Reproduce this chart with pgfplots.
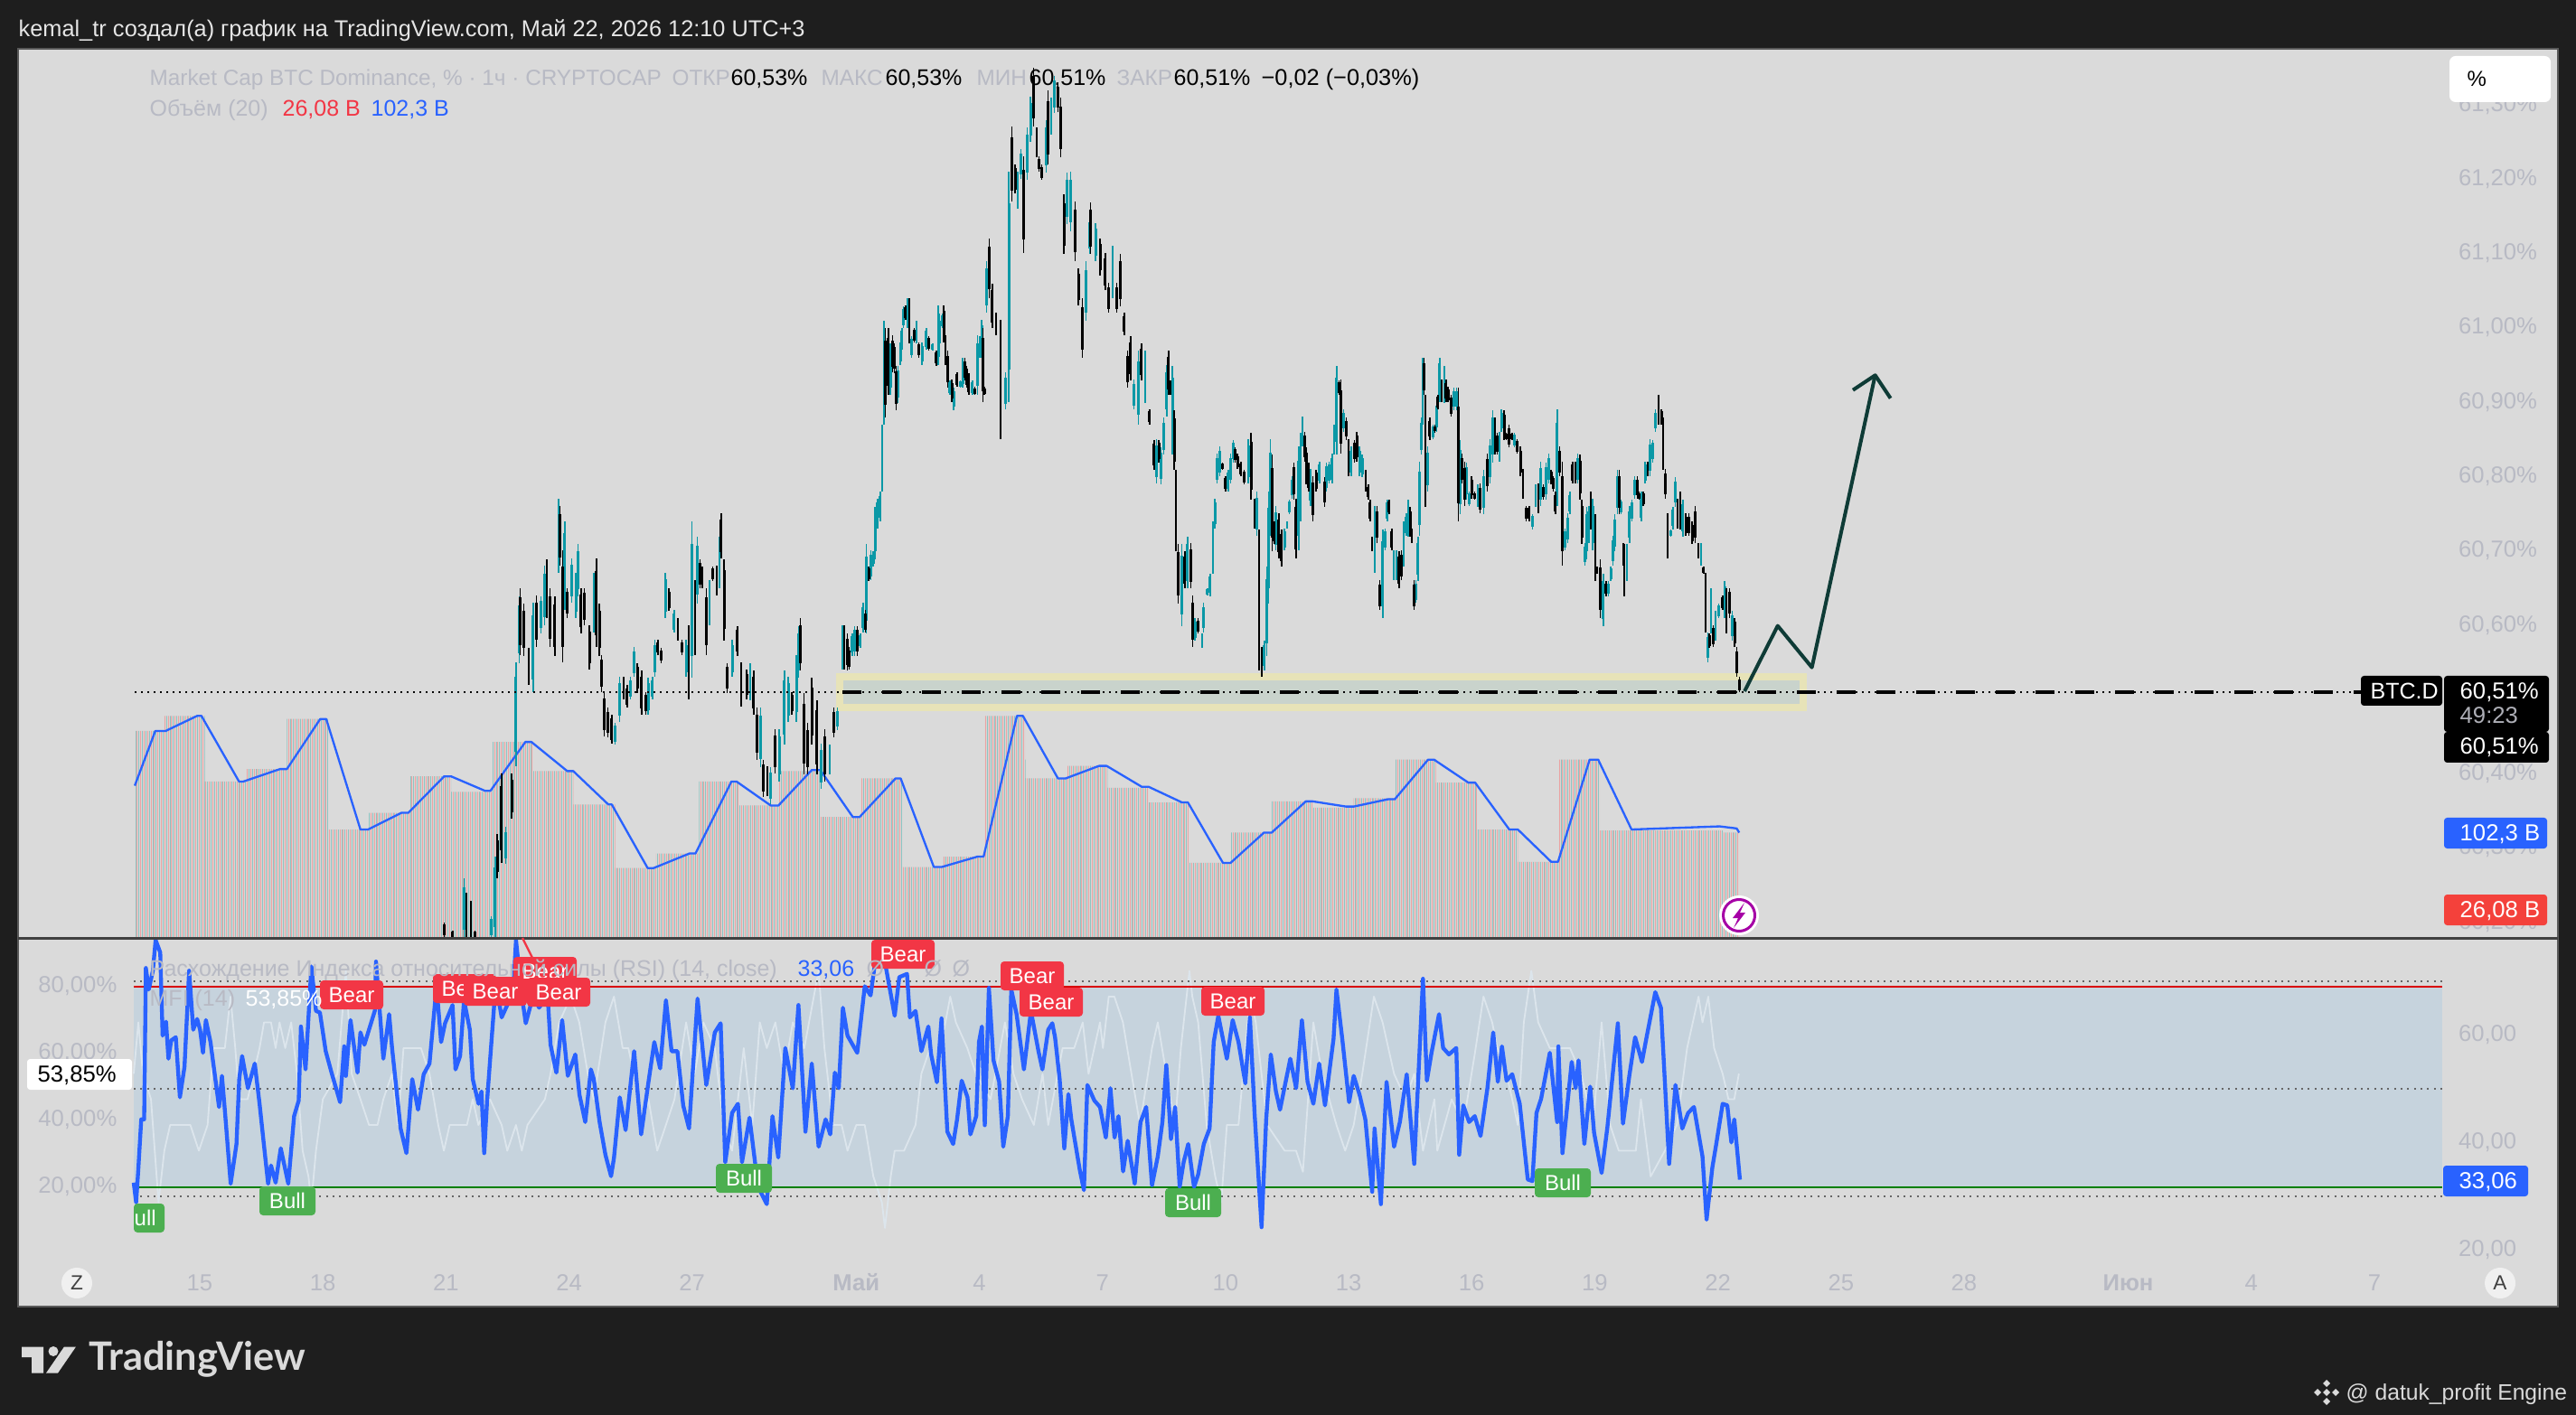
\documentclass[border=0pt]{standalone}
\usepackage{fontspec}
\usepackage{pgfplots}
\usepackage{pgfplotstable}
\pgfplotsset{compat=1.18}
\usetikzlibrary{patterns.meta}
\setmainfont{Liberation Sans}
\newfontfamily\tvfont{Lato}[Scale=1.0]
\definecolor{bg}{HTML}{1E1E1E}
\definecolor{panel}{HTML}{DADADA}
\definecolor{lab}{HTML}{B8BAC4}
\definecolor{teal}{HTML}{0A98A6}
\definecolor{tvblue}{HTML}{2962FF}
\definecolor{tvred}{HTML}{F23645}
\definecolor{tvgreen}{HTML}{4CAF50}
\definecolor{band}{HTML}{C6D3DD}
\definecolor{mfi}{HTML}{DCE5EC}
\definecolor{zoney}{HTML}{E7E3B8}
\definecolor{zonei}{HTML}{C9D3CC}
\definecolor{volr}{HTML}{EBA3A3}
\definecolor{volt}{HTML}{8CC5C2}
\definecolor{arrowc}{HTML}{0E3B36}
\newcommand\fs[1]{\fontsize{#1}{#1}\selectfont}
% hourly candles: hour since 13 April, high, low
\pgfplotstableread{
h H L
191 60.20 60.18
196 60.19 60.18
204 60.24 60.18
206.6 60.23 60.18
209 60.19 60.18
222 60.32 60.26
224.5 60.40 60.28
230.5 60.40 60.34
235.4 60.65 60.56
237.5 60.63 60.56
240.5 60.57 60.52
245 60.64 60.57
251 60.69 60.61
253 60.65 60.57
255.7 60.64 60.56
258.8 60.76 60.68
260.3 60.70 60.55
263 60.65 60.61
271 60.65 60.59
273 60.65 60.60
276 60.60 60.54
280 60.69 60.57
281.8 60.63 60.56
283 60.56 60.51
284.5 60.51 60.45
286.7 60.49 60.45
289 60.48 60.44
296 60.53 60.50
298 60.52 60.49
304 60.55 60.51
306.5 60.54 60.48
308.8 60.51 60.48
316 60.58 60.56
318 60.57 60.55
322.5 60.65 60.62
327.7 60.61 60.58
330 60.58 60.56
334 60.60 60.50
337.7 60.66 60.56
340.7 60.69 60.65
342 60.68 60.65
344.4 60.65 60.56
348 60.68 60.66
350.4 60.68 60.64
353 60.75 60.69
354.7 60.69 60.58
356.5 60.55 60.51
362.5 60.60 60.56
364.7 60.55 60.49
368 60.54 60.50
372 60.54 60.48
374 60.49 60.42
377.7 60.42 60.37
380 60.41 60.37
384.4 60.46 60.40
394.4 60.51 60.48
399.3 60.61 60.54
401.4 60.51 60.40
403.6 60.47 60.40
406 60.53 60.44
409 60.50 60.40
413.5 60.46 60.39
419 60.49 60.45
425 60.60 60.54
426.8 60.59 60.54
428 60.57 60.54
432.6 60.60 60.56
437.4 60.62 60.59
439.3 60.68 60.66
449 61.00 60.88
450.8 61.00 60.91
453.2 60.99 60.94
454.3 60.98 60.94
455.4 60.95 60.89
460.8 61.03 61.01
463 61.04 60.98
466 61.00 60.98
468.7 60.98 60.96
474.5 60.99 60.97
478.8 60.97 60.95
483.2 61.03 60.98
484.2 60.99 60.95
485.5 60.97 60.92
488 60.93 60.90
491 60.94 60.92
495.5 60.96 60.93
496.5 60.95 60.92
497.8 60.94 60.91
501.3 60.92 60.91
506 61.00 60.90
507 60.92 60.91
509.8 61.12 61.04
511.6 61.06 61.00
513.8 61.02 60.99
516.4 61.01 60.85
523 61.27 61.17
525 61.22 61.18
530 61.23 61.10
535.7 61.35 61.27
537.6 61.27 61.23
539 61.23 61.21
540.6 61.22 61.20
544.3 61.32 61.22
550 61.33 61.29
551.7 61.31 61.23
553.5 61.18 61.10
560 61.17 61.09
562 61.08 61.03
564.3 61.04 60.96
569 61.17 61.10
574.7 61.12 61.07
577.7 61.10 61.05
579.5 61.06 61.02
584.3 61.06 61.02
586.6 61.10 61.03
588.8 61.02 60.99
590.6 60.97 60.92
592.5 60.99 60.93
598.8 60.98 60.93
603.6 60.89 60.87
606.2 60.85 60.81
609 60.85 60.82
614.7 60.97 60.91
615.8 60.93 60.91
618 60.89 60.81
619 60.81 60.70
620.2 60.71 60.63
624.2 60.70 60.65
627.6 60.71 60.65
628.7 60.64 60.57
632 60.61 60.59
646.3 60.82 60.81
648 60.80 60.78
653.6 60.84 60.82
655 60.83 60.81
657 60.82 60.80
659 60.81 60.79
663 60.86 60.77
665 60.77 60.73
667.6 60.73 60.54
669.2 60.57 60.53
675.2 60.83 60.70
676.5 60.74 60.71
679.2 60.75 60.69
680.8 60.73 60.68
688 60.82 60.77
689.2 60.77 60.69
694.3 60.86 60.82
695.2 60.84 60.79
696.6 60.82 60.78
699.2 60.80 60.74
701 60.81 60.78
706 60.80 60.76
714.4 60.93 60.91
715.5 60.93 60.83
718.6 60.88 60.85
720 60.85 60.80
723.3 60.85 60.82
724.8 60.86 60.82
730 60.81 60.78
731.5 60.79 60.77
732.6 60.77 60.74
733.7 60.72 60.70
736.6 60.76 60.71
738.2 60.66 60.62
743.7 60.77 60.75
745.3 60.73 60.70
749.5 60.70 60.65
750.8 60.70 60.66
756 60.76 60.72
757 60.73 60.71
758.4 60.66 60.62
764 60.96 60.91
764.9 60.91 60.76
767.5 60.88 60.85
770.4 60.87 60.86
772.2 60.91 60.89
774.4 60.93 60.90
777 60.93 60.90
778.2 60.92 60.90
780 60.91 60.88
784.2 60.92 60.74
786.4 60.83 60.79
787.8 60.82 60.76
792 60.80 60.77
793.8 60.78 60.77
797 60.79 60.75
801 60.83 60.78
805.6 60.88 60.83
807 60.86 60.83
811 60.89 60.85
812.3 60.86 60.85
813.8 60.87 60.84
815.6 60.86 60.85
818.7 60.85 60.83
820.5 60.84 60.80
822 60.81 60.77
823.8 60.76 60.74
825.6 60.76 60.74
831 60.79 60.75
833.8 60.79 60.77
838.5 60.81 60.79
839.8 60.80 60.78
841 60.78 60.75
843.4 60.84 60.80
845 60.82 60.68
851 60.82 60.79
852.7 60.82 60.79
855.4 60.83 60.77
856.5 60.77 60.71
861.7 60.78 60.73
864.3 60.75 60.66
865.4 60.68 60.67
867.2 60.69 60.61
870.6 60.66 60.64
878.3 60.81 60.75
880.8 60.71 60.68
881.2 60.71 60.64
888.8 60.80 60.77
889.9 60.78 60.77
892.4 60.78 60.76
895 60.82 60.80
901.3 60.91 60.87
903 60.89 60.87
904 60.88 60.81
905.3 60.81 60.77
906.6 60.75 60.69
912.4 60.77 60.73
914 60.78 60.73
917.3 60.75 60.72
919 60.75 60.72
921 60.74 60.71
922.8 60.76 60.71
924.6 60.71 60.69
927.7 60.68 60.67
928.8 60.67 60.59
931 60.59 60.57
933.3 60.60 60.57
938.8 60.64 60.62
941 60.65 60.59
942.9 60.65 60.61
945.8 60.61 60.57
947 60.57 60.53
948.7 60.53 60.51
}\dn
\pgfplotstableread{
h H L
202.6 60.26 60.18
218.4 60.21 60.18
220.8 60.29 60.18
227 60.33 60.28
233 60.55 60.41
235 60.64 60.55
243 60.63 60.51
247.5 60.64 60.59
249.7 60.68 60.60
258 60.77 60.67
261.5 60.74 60.62
265.7 60.69 60.63
268 60.67 60.61
269.4 60.71 60.64
278.5 60.67 60.59
291 60.47 60.44
293.7 60.53 60.47
300 60.53 60.50
302 60.57 60.53
310.3 60.53 60.48
312.8 60.53 60.50
314.3 60.58 60.53
320.4 60.67 60.61
325.5 60.62 60.59
332.5 60.58 60.53
336 60.74 60.53
339 60.72 60.63
346.2 60.66 60.60
352 60.72 60.65
359.5 60.58 60.53
370 60.55 60.50
376 60.49 60.41
382 60.41 60.36
387 60.46 60.39
390 60.54 60.44
392.3 60.53 60.47
397 60.56 60.47
398.4 60.60 60.53
411.5 60.44 60.38
416.5 60.44 60.40
421 60.49 60.46
424 60.60 60.54
429.6 60.59 60.56
431 60.60 60.56
434.4 60.59 60.57
436 60.63 60.59
438 60.71 60.59
440.5 60.70 60.66
442 60.70 60.68
443 60.76 60.69
444.4 60.77 60.73
446 60.78 60.74
447.2 60.87 60.78
448.3 61.01 60.87
452 60.98 60.91
456.4 60.95 60.90
457.8 60.98 60.95
458.7 61.00 60.97
459.6 61.03 61.00
462 61.04 61.00
464.3 60.99 60.96
467.3 61.01 60.98
470.5 60.98 60.95
473 61.00 60.97
476.7 60.98 60.97
480 61.03 60.95
481 61.01 60.98
482.3 61.02 61.00
486.7 60.93 60.91
489 60.92 60.89
493 60.93 60.92
494.3 60.96 60.92
500 60.93 60.91
503 60.99 60.91
504.3 60.99 60.96
505.4 61.01 60.96
508.2 61.09 61.02
519.4 60.94 60.89
521.3 61.21 60.90
526.5 61.21 61.16
528.3 61.24 61.20
532 61.27 61.20
534 61.31 61.25
543 61.28 61.21
546 61.31 61.26
548 61.34 61.29
555.4 61.21 61.14
557.3 61.21 61.13
566.5 61.09 61.01
568.4 61.15 61.10
572 61.14 61.09
582 61.11 61.04
594.4 60.93 60.89
597 60.97 60.87
601 60.97 60.90
607.5 60.85 60.79
610.2 60.84 60.79
611.8 60.88 60.83
613.6 60.95 60.88
617 60.95 60.83
622.5 60.71 60.60
625.8 60.72 60.65
630.2 60.61 60.58
634.3 60.59 60.57
635 60.63 60.59
637.4 60.65 60.64
639 60.67 60.64
640.7 60.74 60.67
641.8 60.77 60.73
643 60.83 60.79
644.7 60.84 60.80
649.6 60.81 60.78
651 60.83 60.79
652.5 60.85 60.82
661.4 60.85 60.79
666.3 60.78 60.72
670.7 60.58 60.54
672 60.68 60.56
673.2 60.78 60.63
674.3 60.85 60.72
677.4 60.76 60.70
682.5 60.73 60.70
684 60.74 60.73
685.4 60.77 60.75
687 60.80 60.77
690.8 60.84 60.70
692 60.86 60.74
693 60.88 60.84
697.7 60.81 60.76
703 60.82 60.79
707 60.82 60.78
708.6 60.82 60.79
710.4 60.83 60.79
711.5 60.87 60.83
713 60.95 60.83
717 60.89 60.86
721.5 60.84 60.80
726.4 60.84 60.80
728 60.83 60.80
735.3 60.76 60.67
740 60.73 60.61
741.5 60.73 60.70
742.6 60.77 60.74
746.4 60.70 60.66
748 60.70 60.66
752.2 60.74 60.68
753.7 60.75 60.72
754.9 60.77 60.72
759.3 60.66 60.63
760.6 60.72 60.66
761.5 60.82 60.72
762.6 60.88 60.83
763.3 60.96 60.87
766.2 60.84 60.78
769.3 60.87 60.85
771.5 60.90 60.86
773.3 60.96 60.90
776 60.95 60.90
781.5 60.92 60.89
783.1 60.92 60.89
785.3 60.85 60.75
788.9 60.82 60.77
790.5 60.78 60.76
795.6 60.79 60.76
799 60.81 60.75
802.7 60.85 60.79
804.2 60.89 60.82
808.3 60.86 60.82
809.4 60.89 60.86
817 60.86 60.84
827.6 60.75 60.73
829.4 60.79 60.76
832.3 60.82 60.76
835.4 60.82 60.77
837.2 60.83 60.79
842 60.89 60.76
846.5 60.73 60.70
848.3 60.75 60.71
849.4 60.78 60.75
853.9 60.83 60.79
858.3 60.71 60.68
859.4 60.76 60.69
860.5 60.76 60.71
862.8 60.77 60.70
869 60.67 60.60
872 60.66 60.64
873.4 60.68 60.66
874.5 60.72 60.68
875.7 60.75 60.70
877.2 60.81 60.75
879.5 60.77 60.75
882.8 60.71 60.66
884.3 60.76 60.71
885.7 60.77 60.74
887.2 60.80 60.77
891.2 60.78 60.74
893.5 60.82 60.79
896.4 60.85 60.80
897.9 60.85 60.82
899.5 60.89 60.86
908.4 60.73 60.72
909.7 60.76 60.73
911 60.80 60.76
915.5 60.77 60.72
926.2 60.71 60.68
930 60.59 60.55
932 60.65 60.59
934.6 60.62 60.58
936.6 60.63 60.61
940 60.66 60.61
944.4 60.62 60.58
}\up
% volume per day (billions), daily steps
\pgfplotstableread{
h v
10 198.5
27 213
51 150
75 162
99 210
123 104
147 120
171 155
195 140
219 188
243 160
266.5 128
291 67
315 81
340 150
363 127
387 160
411 116
435 153
459 68
483 78
507 213
531 153
555.6 165
579 144
603 130
626.5 72
651 101
675 131
699 125
723 134
747 171
771 149
795 104
819 73
843 171
867 103
939 101
948.5 101
}\vol
% volume moving average
\pgfplotstableread{
h v
10 146
22 198.5
28 198.5
46.5 213
49 213
71 150
73.5 150
95 162
99 162
118.5 210
122 210
142 104
146.5 104
166 120
170 120
191 155
195 155
215 141
218 141
238.5 188
242 188
263 160
266.5 160
287 128
289 128
310 67
313.5 67
334.5 81
338 81
359 150
362 150
382 127
386.5 127
406 161
411 161
430 116
434 116
455 153
458 153
477.4 68
482 68
503 78
506.5 78
526 213
529.5 213
550 153
554.5 153
574 165
578.5 165
599 145
603 145
622.5 130
626 130
646.5 72
651 72
670.5 101
675 101
695 131
699 131
718.5 126
723 126
743 133
747 133
766.5 171
770 171
790 149
794 149
814 104
819 104
838.5 73
842.5 73
861 171
866 171
885.5 104
937 107
947 105
948.5 101
}\sma
% RSI
\pgfplotstableread{
h v
9.4 32.5
10.8 28.8
12.1 35.1
13.8 44.3
15.5 44.3
16.5 72.5
18.2 68.5
20.6 72
22.2 77.7
24.9 75.4
26.3 59.9
28.3 62.5
29.7 55.6
31.3 59
34 59.6
36.4 48.4
39.1 54.1
41.8 72
44.2 61
46.5 63
48.2 61
49.9 56.7
51.6 62.8
54.3 58.7
57.6 50.7
59.3 46.6
61 52.4
62.7 46
66.1 32.3
69.5 39.7
71.1 51.8
72.8 56.1
76.2 50.1
80.2 54.7
83 47.2
85.3 40.3
88 32.3
89.7 35.7
92.4 32.5
95.4 38.9
99.8 32.3
103.2 44.9
105.9 47.8
107.2 61.6
109.9 53.6
113.3 72.8
116 64.5
118.3 64.2
121.7 57
125.1 53
130.1 47.5
132.5 57.9
133.5 52.4
136.2 62.8
140.3 53
142 60.5
144.3 58.2
150.4 64.5
151.1 73.7
155.4 55.6
158.8 63.9
160.5 57.6
165.5 42.6
168.9 38
172.3 51.8
175.7 46.1
179 52.7
182.4 54.7
186.5 69.1
189.2 58.7
191.5 62.2
195.9 65.6
197.6 53.6
200.3 56.1
202.6 66.5
206 61
207.7 51.8
211.1 47.2
212.8 49.5
214.4 38
216.1 47.8
218.5 58.2
221.2 69.7
224.6 63.3
227.9 65.6
231.3 67.9
233 77.7
236.4 67.4
238.7 62.2
243.1 67.4
246.5 65.1
251.5 67.4
253.2 58.2
256.6 53
260 62.8
263.3 52.4
267.7 56.4
270.1 48.9
273.5 43.8
276.8 53.6
278.5 51.8
281.9 43.8
285.3 37.7
288.6 33.7
290.3 37.1
293.7 48.4
297.1 42.3
302.1 57
306.2 41.5
310.5 51.3
313.9 58.7
317.3 53.8
320.7 66.5
324 57
327.4 57
330.8 46.9
334.2 42.6
339.2 66.8
344.3 50.7
349.3 60.5
352.7 62.2
355.4 36.3
359.4 45.5
362.8 47.2
365.2 36.3
369.6 44.6
374.6 31.7
379.7 28.5
383 44.9
386.4 37.2
390.5 57.6
394.9 50.1
398.2 65.6
402.3 42
406 54.7
410 39.2
414.1 44.3
416.8 41.5
419.5 53
421.8 50.1
424.2 65.1
426.9 59.9
432.6 56.7
437 69.1
440.4 67.4
443.1 73.7
447.1 76.6
454.5 63.6
457.2 70.8
461.7 71.4
463.4 63.3
466.7 64.5
470.1 57
474.2 61.6
475.8 56.4
479.2 51.2
481.9 63.1
485.3 42
488.7 39.7
491 44.3
493.7 51.5
497.1 48.4
498.8 41.5
502.2 44.9
503.8 58.7
505.5 61.6
507.2 43.2
509.6 68.8
512.3 55.3
515.6 51.3
518 39.2
520.7 44.9
522.7 68.5
525.8 63.9
530.1 53.6
534.2 64.5
538.6 57
540.9 53.6
544.3 61
546.7 62.2
548.3 59.6
551 51.8
553.7 38.9
556.1 49
557.8 44.3
562.8 34.8
565.2 31.1
567.2 50.7
571.3 47.8
574.6 46.6
578 40.9
580.7 50.1
583.1 40.9
585.4 44.9
588.1 34.6
590.8 40.3
594.9 32.3
598.3 43.8
601.6 46.6
605 32
608.4 37.4
611.1 43.8
613.4 54.4
616.1 40.6
618.5 46.6
621.2 31.7
623.5 36.3
626.2 39.7
629.6 31.7
632 34
635.3 39.7
638.7 42.6
641.1 58.7
643.8 63.6
648.8 55.6
652.2 62.8
655.6 58.7
659.6 51
662.3 63.3
665 45.5
669.1 24.2
671.8 44.3
674.5 56.4
677.5 49.5
679.9 46.1
685.9 55.6
689.3 50.1
692.7 62.8
696 51.3
699.4 47.2
702.8 54.7
706.2 46.9
711.2 59.3
712.9 68.5
716.3 59.3
720.3 47.5
723 52.4
726.4 48.9
729.8 44.3
733.8 30.8
735.2 42.6
738.9 28.5
742.2 51.3
746.6 39.2
750 43.8
754 52.7
758.4 36
763.5 70.5
765.8 51.5
768.5 56.7
772.9 63.9
775.3 57.6
778.7 56.4
783 57.6
784.7 37.7
787.1 46.9
790.5 43.8
793.8 44.9
797.2 41.2
801.2 50.1
804.6 60.5
807.3 51.3
809.7 57.9
812.4 51.5
815.7 52.7
820.1 47.2
824.8 33.1
827.5 32.8
829.9 45.5
832.6 48.1
837.7 56.7
842 43.8
842.7 57.9
845.1 38
850.5 55
852.8 50.1
854.5 55.3
857.9 39.7
861.3 50.4
863.6 41.8
868 34.3
871.4 42.9
877.5 62.2
880.5 43.5
884.2 52.4
887.6 59.6
891.6 55
894.3 59.6
899.4 68
902.7 65.1
905.1 50.7
907.5 36
911.2 50.7
915.2 42.6
918.6 45.5
922 46.6
927 37.4
929.4 25.6
932.8 35.4
934.8 39.2
938.8 47.2
941.5 46.9
943.9 40
945.6 44.3
948.9 33.06
}\rsi
% MFI
\pgfplotstableread{
h v
9.4 53.8
12.1 69.2
14.8 53.8
19.5 46.2
23.9 15.4
27.3 30.8
30.7 38.5
42.5 38.5
47.5 30.8
52.6 38.5
56 61.5
62.7 61.5
66 76.9
68.8 61.5
71 46.2
76 46.2
83 61.5
85.6 69.2
89.7 69.2
92.4 61.5
94.7 69.2
98 61.5
101.5 69.2
104.9 53.8
108.2 30.8
111.6 23.1
113.3 15.4
116 30.8
120 46.2
128.5 53.8
133.5 84.6
136.9 53.8
142 46.2
147 38.5
152 38.5
155.4 46.2
160.5 53.8
163.9 38.5
167.2 61.5
177.4 61.5
182.4 53.8
187.5 38.5
190.8 30.8
194.2 38.5
204.3 38.5
207.7 46.2
211 38.5
217.8 46.2
224.6 38.5
227.9 30.8
233 38.5
236.4 30.8
239.7 38.5
249.9 46.2
253.2 53.8
258.3 69.2
265 76.9
270 69.2
275 53.8
278.5 46.2
285.3 69.2
290.3 76.9
295.4 61.5
298.7 61.5
302 53.8
307 38.5
310.5 46.2
315.6 30.8
320.7 38.5
325.7 46.2
332.5 69.2
337.5 53.8
342.6 69.2
349.3 61.5
354.4 38.5
359.4 30.8
366.2 61.5
371.2 38.5
375.6 69.2
379.7 61.5
384.7 69.2
389.8 53.8
394.9 69.2
401.6 61.5
410 84.6
413.4 61.5
418.5 38.5
423.5 38.5
426.9 30.8
432 38.5
437 38.5
442 23.1
447 15.4
448.8 7.7
452.2 23.1
454.5 30.8
460 30.8
466.7 38.5
470.1 53.8
475.2 61.5
478.5 53.8
487 76.9
490.3 69.2
497 61.5
502 53.8
510.6 46.2
519 69.2
524 53.8
529 46.2
535.9 38.5
541 53.8
544.3 38.5
552.7 61.5
559.5 61.5
564.5 69.2
567.9 53.8
574.6 69.2
576.3 61.5
579.7 76.9
583 76.9
588 69.2
593 53.8
598 38.5
605 61.5
608.4 69.2
611.7 59
618.5 38.5
621.9 61.5
626.9 84.6
628.6 76.9
632 69.2
637 38.5
642 23.1
645.5 15.4
648.8 38.5
655.6 38.5
662.3 76.9
665.7 69.2
672.4 38.5
682.6 30.8
689.3 30.8
693.3 24.5
699.4 69.2
704.5 53.8
712.9 38.5
718 30.8
723 38.5
728 53.8
734.8 76.9
739.9 69.2
746.6 53.8
753.4 46.2
758.4 53.8
763.5 30.8
770.2 46.2
771.9 30.8
780.3 46.2
787 38.5
793.8 59.7
798.9 76.9
804 69.2
807 61.5
812.4 53.8
819 38.5
822.5 69.2
826.9 84.6
830.9 69.2
837.7 61.5
849.5 61.5
856 53.8
863 38.5
868 69.2
873 38.5
878 30.8
888 30.8
891 46.2
896.7 23.1
905 30.8
912 38.5
918 61.5
924.7 76.9
927 69.2
930.4 76.9
933.8 61.5
938.8 53.8
942.2 46.2
945.6 46.2
948.3 53.85
}\mfitab
\pgfplotsset{
 pane/.style={scale only axis, width=804.6pt, xmin=-58.25, xmax=1359.7,
   axis line style={draw=none}, major tick length=0pt, clip=true,
   xtick=\empty, ytick=\empty},
 candle/.style={draw=none, no markers, forget plot,
   error bars/.cd, y dir=both, y explicit, error mark=none,
   error bar style={line width=#1}},
}
\tikzset{
 bear/.style={fill=tvred, text=white, rounded corners=1.2pt, minimum width=21pt, minimum height=9.6pt, inner sep=0pt, font=\fs{7.2}},
 bull/.style={fill=tvgreen, text=white, rounded corners=1.2pt, minimum width=18.6pt, minimum height=9.6pt, inner sep=0pt, font=\fs{7.2}},
 t/.style={anchor=mid west, inner sep=0pt},
}
\begin{document}
\begin{tikzpicture}
\useasboundingbox (0,0) rectangle (855pt,-469.8pt);
\begin{scope}[x=0.3pt,y=-0.3pt]
\fill[bg] (0,0) rectangle (2850,1566);
\fill[panel,draw=gray!70!black,line width=0.5pt] (20,54) rectangle (2830,1446);
\end{scope}
% volume pane
\begin{axis}[pane, at={(6pt,-16.2pt)}, anchor=north west, height=295.2pt, ymin=0, ymax=853]
\addplot[const plot, draw=none, fill=panel!92!volr] table[x=h,y=v]{\vol} \closedcycle;
\addplot[const plot, draw=none, pattern={Lines[angle=90,distance=1.14pt,line width=0.3pt]}, pattern color=volr] table[x=h,y=v]{\vol} \closedcycle;
\addplot[const plot, draw=none, pattern={Lines[angle=90,distance=1.14pt,line width=0.3pt,xshift=0.57pt]}, pattern color=volt] table[x=h,y=v]{\vol} \closedcycle;
\addplot[tvblue, line width=0.7pt, line join=round] table[x=h,y=v]{\sma};
\end{axis}
% price pane
\begin{axis}[pane, at={(6pt,-16.2pt)}, anchor=north west, height=295.2pt,
  ymin=60.1793, ymax=61.375, yticklabel pos=right,
  ytick={60.2,60.3,60.4,60.5,60.6,60.7,60.8,60.9,61.0,61.1,61.2,61.3},
  yticklabels={{60,20\%},{60,30\%},{60,40\%},{60,50\%},{60,60\%},{60,70\%},{60,80\%},{60,90\%},{61,00\%},{61,10\%},{61,20\%},{61,30\%}},
  yticklabel style={text=lab, font=\fs{7.7}, anchor=west, inner sep=0pt, xshift=5.2pt}]
\addplot[fill=zoney, draw=none, forget plot] coordinates {(420.2,60.535)(988,60.535)(988,60.484)(420.2,60.484)} --cycle;
\addplot[fill=zonei, draw=none, forget plot] coordinates {(424.4,60.526)(983.8,60.526)(983.8,60.494)(424.4,60.494)} --cycle;
\addplot[candle=0.45pt, /pgfplots/error bars/error bar style={color=teal}] table[x=h, y expr=(\thisrow{H}+\thisrow{L})/2, y error expr=(\thisrow{H}-\thisrow{L})/2]{\up};
\addplot[candle=0.85pt, /pgfplots/error bars/error bar style={color=teal}] table[x=h, y expr=(\thisrow{H}+\thisrow{L})/2, y error expr=(\thisrow{H}-\thisrow{L})*0.36]{\up};
\addplot[candle=0.45pt, /pgfplots/error bars/error bar style={color=black}] table[x=h, y expr=(\thisrow{H}+\thisrow{L})/2, y error expr=(\thisrow{H}-\thisrow{L})/2]{\dn};
\addplot[candle=0.85pt, /pgfplots/error bars/error bar style={color=black}] table[x=h, y expr=(\thisrow{H}+\thisrow{L})/2, y error expr=(\thisrow{H}-\thisrow{L})*0.36]{\dn};
\addplot[black, line width=0.6pt, dash pattern=on 0.6pt off 1.5pt] coordinates {(10,60.51)(1312,60.51)};
\addplot[black, line width=1pt, dash pattern=on 6.3pt off 6.9pt] coordinates {(424,60.51)(1312,60.51)};
\addplot[arrowc, line width=1.2pt, line join=round] coordinates {(951.6,60.511)(971,60.599)(991,60.543)(1028,60.936)};
\addplot[arrowc, line width=1.2pt, line join=round] coordinates {(1015,60.916)(1028,60.936)(1037,60.905)};
\end{axis}
% RSI pane: MFI axis
\begin{axis}[pane, at={(6pt,-311.4pt)}, anchor=north west, height=107.1pt,
  ymin=-2.03, ymax=94.46,
  ytick={20,40,60,80}, yticklabels={{20,00\%},{40,00\%},{60,00\%},{80,00\%}},
  yticklabel style={text=lab, font=\fs{7.7}, anchor=east, inner sep=0pt, xshift=33pt}]
\addplot[fill=band, draw=none, forget plot] coordinates {(9.4,80)(1359.7,80)(1359.7,20)(9.4,20)} --cycle;
\addplot[mfi, line width=0.55pt, line join=round] table[x=h,y=v]{\mfitab};
\end{axis}
% RSI axis
\begin{axis}[pane, at={(6pt,-311.4pt)}, anchor=north west, height=107.1pt,
  ymin=18.0, ymax=78.11, yticklabel pos=right,
  ytick={20,40,60}, yticklabels={{20,00},{40,00},{60,00}},
  yticklabel style={text=lab, font=\fs{7.7}, anchor=west, inner sep=0pt, xshift=5.2pt},
  xtick={48,120,192,264,336,432,504,576,648,720,792,864,936,1008,1080,1176,1248,1320},
  xticklabels={15,18,21,24,27,{\bfseries Май},4,7,10,13,16,19,22,25,28,{\bfseries Июн},4,7},
  xticklabel style={text=lab, font=\fs{7.7}, anchor=mid, inner sep=0pt, yshift=-7.5pt}]
\addplot[color=gray!80!black, line width=0.5pt, dash pattern=on 0.6pt off 1.6pt] coordinates {(9.4,70)(1359.7,70)};
\addplot[color=gray!80!black, line width=0.5pt, dash pattern=on 0.6pt off 1.6pt] coordinates {(9.4,50)(1359.7,50)};
\addplot[color=gray!80!black, line width=0.5pt, dash pattern=on 0.6pt off 1.6pt] coordinates {(9.4,30)(1359.7,30)};
\addplot[color=red!85!black, line width=0.6pt] coordinates {(9.4,69.1)(1359.7,69.1)};
\addplot[color=green!50!black, line width=0.6pt] coordinates {(9.4,31.6)(1359.7,31.6)};
\addplot[tvblue, line width=1.3pt, line join=round] table[x=h,y=v]{\rsi};
\end{axis}
\begin{scope}[x=0.3pt,y=-0.3pt]
\draw[black!75,line width=0.9pt] (20,1038.5) -- (2830,1038.5);
% header
\node[t,text=white!90!black,font=\fs{7.6}] at (20,32) {kemal\_tr создал(а) график на TradingView.com, Май 22, 2026 12:10 UTC+3};
% legends
\node[t,text=lab,font=\fs{7.3}] at (165,86) {Market Cap BTC Dominance, \% · 1ч · CRYPTOCAP};
\node[t,text=lab,font=\fs{7.3}] at (743,86) {ОТКР};
\node[t,font=\fs{7.5}] at (808,86) {60,53\%};
\node[t,text=lab,font=\fs{7.3}] at (908,86) {МАКС};
\node[t,font=\fs{7.5}] at (979,86) {60,53\%};
\node[t,text=lab,font=\fs{7.3}] at (1080,86) {МИН};
\node[t,font=\fs{7.5}] at (1138,86) {60,51\%};
\node[t,text=lab,font=\fs{7.3}] at (1235,86) {ЗАКР};
\node[t,font=\fs{7.5}] at (1298,86) {60,51\%};
\node[t,font=\fs{7.6}] at (1395,86) {−0,02 (−0,03\%)};
\node[t,text=lab,font=\fs{7.5}] at (165,120) {Объём (20)};
\node[t,text=tvred,font=\fs{7.5}] at (312,120) {26,08 B};
\node[t,text=tvblue,font=\fs{7.5}] at (410,120) {102,3 B};
% percent button
\fill[white,rounded corners=2pt] (2710,62) rectangle (2822,113);
\node[t,font=\fs{7.2}] at (2729,87) {\%};
% last price badges
\fill[black,rounded corners=1pt] (2612,748) rectangle (2702,781);
\node[t,text=white,font=\fs{7.5}] at (2622,765) {BTC.D};
\fill[black,rounded corners=1pt] (2704,748) rectangle (2820,810);
\fill[black,rounded corners=1pt] (2704,810) rectangle (2820,844);
\node[t,text=white,font=\fs{7.7}] at (2721,765) {60,51\%};
\node[t,text=lab!80!gray,font=\fs{7.7}] at (2721,792) {49:23};
\node[t,text=white,font=\fs{7.7}] at (2721,826) {60,51\%};
\fill[tvblue,rounded corners=1pt] (2704,905) rectangle (2818,939);
\node[t,text=white,font=\fs{7.7}] at (2721,922) {102,3 B};
\fill[tvred!85!orange,rounded corners=1pt] (2704,990) rectangle (2818,1024);
\node[t,text=white,font=\fs{7.7}] at (2721,1007) {26,08 B};
% lightning
\fill[white] (1924,1013) circle (22);
\draw[violet!70!magenta,line width=0.9pt] (1924,1013) circle (17.5);
\fill[violet!70!magenta] (1930,999) -- (1917,1016) -- (1923,1016) -- (1918,1027) -- (1931,1010) -- (1925,1010) -- cycle;
% left MFI badge
\fill[white,rounded corners=1pt] (30,1172) rectangle (146,1206);
\node[t,font=\fs{7.7}] at (41,1189) {53,85\%};
% RSI badge
\fill[tvblue,rounded corners=1pt] (2703,1290) rectangle (2797,1324);
\node[t,text=white,font=\fs{7.7}] at (2720,1307) {33,06};
% Bear / Bull labels
\draw[tvred,line width=0.7pt] (578,1038) -- (590,1062);
\node[bear] at (389,1101) {Bear};
\node[bear] at (514,1094) {Bear};
\node[bear] at (548,1097) {Bear};
\node[bear] at (603,1075) {Bear};
\node[bear] at (618,1098) {Bear};
\node[bear] at (999,1056) {Bear};
\node[bear] at (1142,1080) {Bear};
\node[bear] at (1163,1109) {Bear};
\node[bear] at (1364,1108) {Bear};
\fill[tvgreen,rounded corners=1.2pt] (148,1332) rectangle (182,1364);
\node[t,text=white,font=\fs{7.2}] at (148,1348) {ull};
\node[bull] at (318,1329) {Bull};
\node[bull] at (823,1304) {Bull};
\node[bull] at (1320,1331) {Bull};
\node[bull] at (1729,1309) {Bull};
% RSI legend
\node[t,text=lab,font=\fs{7.5}] at (165,1072) {Расхождение Индекса относительной силы (RSI) (14, close)};
\node[t,text=tvblue,font=\fs{7.5}] at (882,1072) {33,06};
\node[t,text=lab,font=\fs{7.5}] at (958,1072) {Ø};
\node[t,text=lab,font=\fs{7.5}] at (1022,1072) {Ø};
\node[t,text=lab,font=\fs{7.5}] at (1053,1072) {Ø};
\node[t,text=lab,font=\fs{7.5}] at (165,1105) {MFI (14)};
\node[t,text=white,font=\fs{7.5}] at (271,1105) {53,85\%};
% Z, A
\fill[white!60!panel] (85,1420) circle (17);
\node[text=black!75,font=\fs{6.8}] at (85,1420) {Z};
\fill[white!60!panel] (2766,1420) circle (17);
\node[text=black!75,font=\fs{6.8}] at (2766,1420) {A};
% footer
\fill[panel] (24,1490.5) -- (48,1490.5) -- (48,1519.6) -- (35,1519.6) -- (35,1502) -- (24,1502) -- cycle;
\fill[panel] (59,1495.5) circle (5.5);
\fill[panel] (71,1490.5) -- (84,1490.5) -- (64,1519.6) -- (51,1519.6) -- cycle;
\node[t,text=panel,font=\tvfont\bfseries\fs{13}] at (98,1508) {TradingView};
\node[t,text=panel,font=\fs{7.4}] at (2595,1541) {@ datuk\_profit Engine};
\foreach \dx/\dy in {0/-10,0/10,-10/0,10/0,0/0}{
  \fill[panel] (2574+\dx-4,1541+\dy) -- (2574+\dx,1541+\dy-4) -- (2574+\dx+4,1541+\dy) -- (2574+\dx,1541+\dy+4) -- cycle;
}
\end{scope}
\end{tikzpicture}
\end{document}
